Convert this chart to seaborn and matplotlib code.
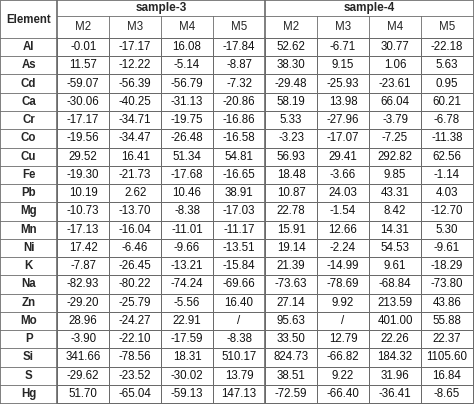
import numpy as np
import matplotlib
matplotlib.use("Agg")
import matplotlib.pyplot as plt
from matplotlib.colors import ListedColormap
import seaborn as sns

elements = ["Al","As","Cd","Ca","Cr","Co","Cu","Fe","Pb","Mg","Mn","Ni","K","Na","Zn","Mo","P","Si","S","Hg"]
samples = ["sample-3", "sample-4"]
methods = ["M2", "M3", "M4", "M5"]
s3_m2 = [-0.01,11.57,-59.07,-30.06,-17.17,-19.56,29.52,-19.30,10.19,-10.73,-17.13,17.42,-7.87,-82.93,-29.20,28.96,-3.90,341.66,-29.62,51.70]
s3_m3 = [-17.17,-12.22,-56.39,-40.25,-34.71,-34.47,16.41,-21.73,2.62,-13.70,-16.04,-6.46,-26.45,-80.22,-25.79,-24.27,-22.10,-78.56,-23.52,-65.04]
s3_m4 = [16.08,-5.14,-56.79,-31.13,-19.75,-26.48,51.34,-17.68,10.46,-8.38,-11.01,-9.66,-13.21,-74.24,-5.56,22.91,-17.59,18.31,-30.02,-59.13]
s3_m5 = [-17.84,-8.87,-7.32,-20.86,-16.86,-16.58,54.81,-16.65,38.91,-17.03,-11.17,-13.51,-15.84,-69.66,16.40,None,-8.38,510.17,13.79,147.13]
s4_m2 = [52.62,38.30,-29.48,58.19,5.33,-3.23,56.93,18.48,10.87,22.78,15.91,19.14,21.39,-73.63,27.14,95.63,33.50,824.73,38.51,-72.59]
s4_m3 = [-6.71,9.15,-25.93,13.98,-27.96,-17.07,29.41,-3.66,24.03,-1.54,12.66,-2.24,-14.99,-78.69,9.92,None,12.79,-66.82,9.22,-66.40]
s4_m4 = [30.77,1.06,-23.61,66.04,-3.79,-7.25,292.82,9.85,43.31,8.42,14.31,54.53,9.61,-68.84,213.59,401.00,22.26,184.32,31.96,-36.41]
s4_m5 = [-22.18,5.63,0.95,60.21,-6.78,-11.38,62.56,-1.14,4.03,-12.70,5.30,-9.61,-18.29,-73.80,43.86,55.88,22.37,1105.60,16.84,-8.65]

cols = [s3_m2, s3_m3, s3_m4, s3_m5, s4_m2, s4_m3, s4_m4, s4_m5]
labels = np.array([["/" if v is None else f"{v:.2f}" for v in c] for c in cols]).T
vals = np.zeros(labels.shape)

sns.set_style("white")
plt.rcParams['font.family'] = ['Liberation Sans', 'DejaVu Sans']
fig = plt.figure(figsize=(4.74, 4.04), dpi=100)
ax = fig.add_axes([0, 0, 1, 1])
lc = "#6a6a6a"
lw = 0.6
sns.heatmap(vals, annot=labels, fmt="", cmap=ListedColormap(["white"]), cbar=False,
            linewidths=lw, linecolor=lc, ax=ax,
            annot_kws={"fontsize": 8.3, "color": "#111111"})
ew = 1.1
ax.set_xlim(-ew, 8.02)
ax.set_ylim(20.05, -2.08)
ax.set_xticks([]); ax.set_yticks([])
for s in ax.spines.values():
    s.set_visible(False)

for i, e in enumerate(elements):
    ax.text(-ew / 2, i + 0.5, e, ha="center", va="center", fontsize=8.3, fontweight="bold")
ax.text(-ew / 2, -1.0, "Element", ha="center", va="center", fontsize=8.3, fontweight="bold")
for i in range(21):
    ax.plot([-ew, 0], [i, i], color=lc, lw=lw)
ax.plot([-ew, -ew], [-2.1, 20.05], color=lc, lw=lw)
ax.plot([0, 8], [-1.2, -1.2], color=lc, lw=lw)
ax.plot([-ew, 8.02], [-2.07, -2.07], color=lc, lw=lw)
for x in range(0, 9):
    y0 = -2.1 if x in (0, 4, 8) else -1.2
    ax.plot([x, x], [y0, 0], color=lc, lw=lw if x not in (0, 4) else 1.2)
ax.plot([0, 0], [0, 20.05], color=lc, lw=1.2)
ax.plot([4, 4], [0, 20.05], color=lc, lw=1.2)
for k, s in enumerate(samples):
    ax.text(k * 4 + 2, -1.65, s, ha="center", va="center", fontsize=8.5, fontweight="bold")
    for j, m in enumerate(methods):
        ax.text(k * 4 + j + 0.5, -0.58, m, ha="center", va="center", fontsize=8.3)

fig.savefig("out.png", dpi=100, facecolor="white")
